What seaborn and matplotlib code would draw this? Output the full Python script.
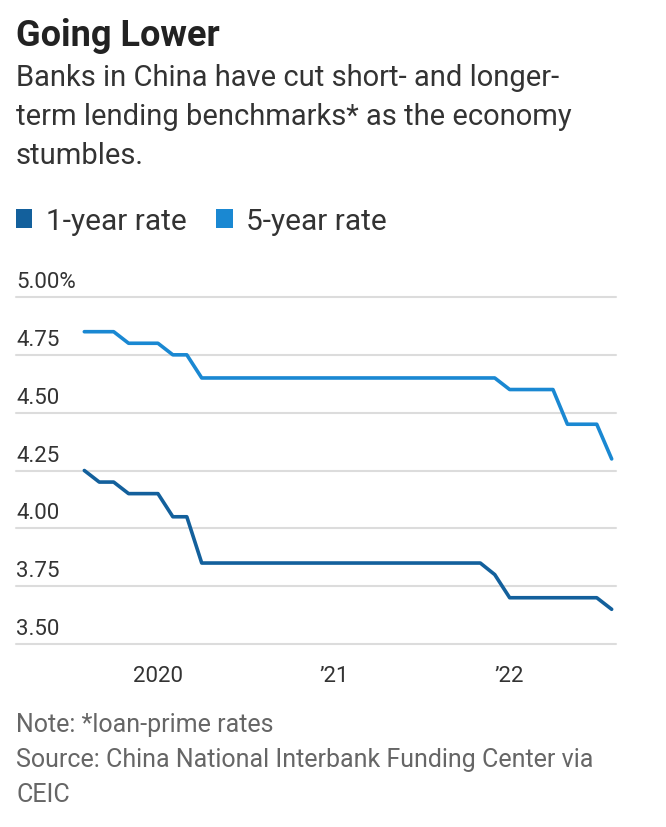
import pandas as pd
import matplotlib.pyplot as plt
from matplotlib.patches import Patch
import seaborn as sns

# monthly loan-prime rates, Aug 2019 - Aug 2022
months = pd.date_range("2019-08-01", "2022-08-01", freq="MS")
rate_1y = [4.25, 4.20, 4.20, 4.15, 4.15, 4.15, 4.05, 4.05,
           3.85, 3.85, 3.85, 3.85, 3.85, 3.85, 3.85, 3.85, 3.85, 3.85,
           3.85, 3.85, 3.85, 3.85, 3.85, 3.85, 3.85, 3.85, 3.85, 3.85,
           3.80, 3.70, 3.70, 3.70, 3.70, 3.70, 3.70, 3.70, 3.65]
rate_5y = [4.85, 4.85, 4.85, 4.80, 4.80, 4.80, 4.75, 4.75,
           4.65, 4.65, 4.65, 4.65, 4.65, 4.65, 4.65, 4.65, 4.65, 4.65,
           4.65, 4.65, 4.65, 4.65, 4.65, 4.65, 4.65, 4.65, 4.65, 4.65,
           4.65, 4.60, 4.60, 4.60, 4.60, 4.45, 4.45, 4.45, 4.30]
series_names = ["1-year rate", "5-year rate"]
colors = {"1-year rate": "#13609c", "5-year rate": "#1a88d2"}

y_ticks = [5.00, 4.75, 4.50, 4.25, 4.00, 3.75, 3.50]
y_labels = ["5.00%", "4.75", "4.50", "4.25", "4.00", "3.75", "3.50"]
x_ticks = [pd.Timestamp("2020-01-01"), pd.Timestamp("2021-01-01"), pd.Timestamp("2022-01-01")]
x_labels = ["2020", "\u201921", "\u201922"]

df = pd.DataFrame({
    "date": list(months) * 2,
    "rate": rate_1y + rate_5y,
    "series": [series_names[0]] * len(months) + [series_names[1]] * len(months),
})

sns.set_style("white")
plt.rcParams["font.family"] = ["Roboto", "DejaVu Sans"]

W, H = 666, 828
fig = plt.figure(figsize=(W / 100, H / 100), dpi=100)
ax = fig.add_axes([16 / W, 1 - 645 / H, 600 / W, 347 / H])

sns.lineplot(data=df, x="date", y="rate", hue="series", palette=colors,
             linewidth=2.6, legend=False, ax=ax)

ax.set_ylim(3.5, 5.0)
ax.set_xlim(pd.Timestamp("2019-03-12"), pd.Timestamp("2022-08-10"))
ax.set_yticks(y_ticks)
ax.set_yticklabels([])
ax.tick_params(axis="y", length=0)
ax.yaxis.grid(True, color="#dcdcdc", linewidth=1.5)
for gl in ax.get_ygridlines():
    gl.set_clip_on(False)
ax.set_axisbelow(True)
for v, lab in zip(y_ticks, y_labels):
    ax.annotate(lab, xy=(0, v), xycoords=ax.get_yaxis_transform(),
                xytext=(0, 3.5), textcoords="offset points",
                ha="left", va="bottom", fontsize=16, color="#333333")

ax.set_xticks(x_ticks)
ax.set_xticklabels(x_labels)
ax.tick_params(axis="x", direction="out", length=6, width=1.4, color="#222222",
               pad=9, labelsize=16, labelcolor="#333333")
ax.set_xlabel("")
ax.set_ylabel("")
sns.despine(ax=ax, left=True, bottom=True)

# header
fig.text(16 / W, 1 - 46 / H, "Going Lower", fontsize=26, fontweight="bold",
         color="#222222", va="baseline")
subtitle = ["Banks in China have cut short- and longer-",
            "term lending benchmarks* as the economy",
            "stumbles."]
for i, line in enumerate(subtitle):
    fig.text(16 / W, 1 - (86 + 39 * i) / H, line, fontsize=21,
             color="#333333", va="baseline")

handles = [Patch(facecolor=colors[s], edgecolor="none") for s in series_names]
fig.legend(handles, series_names, loc="center left",
           bbox_to_anchor=(16 / W, 1 - 222 / H), ncol=2, frameon=False,
           fontsize=21.5, handlelength=0.55, handleheight=0.6,
           handletextpad=0.45, columnspacing=1.0, borderpad=0,
           borderaxespad=0, labelcolor="#333333")

# footer
footer = ["Note: *loan-prime rates",
          "Source: China National Interbank Funding Center via",
          "CEIC"]
for i, line in enumerate(footer):
    fig.text(16 / W, 1 - (732 + 35 * i) / H, line, fontsize=18,
             color="#666666", va="baseline")

fig.savefig("out.png", dpi=100)
